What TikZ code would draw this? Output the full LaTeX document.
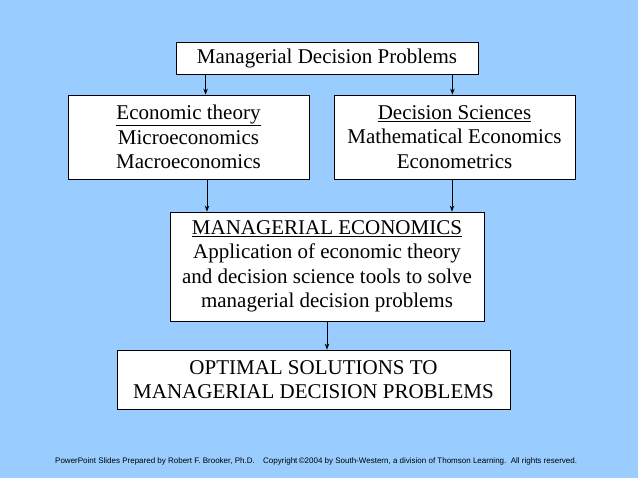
\documentclass[tikz,border=0pt]{standalone}
\usepackage{fontspec}
\setmainfont{Liberation Serif}
\newfontfamily\footfont{Liberation Sans}
\usetikzlibrary{arrows.meta}
\definecolor{slideblue}{HTML}{99CCFF}
\tikzset{
	box/.style={draw=black, fill=white, line width=0.8pt, inner sep=0pt, align=center,
		font=\fontsize{21}{24.5}\selectfont},
	arr/.style={-{Stealth[length=6pt,width=4.5pt]}, line width=0.8pt},
	foot/.style={font=\footfont\fontsize{8}{9}\selectfont, anchor=west, inner sep=0pt}
}

\begin{document}
\begin{tikzpicture}[x=1pt,y=1pt]
					\fill[slideblue] (0,0) rectangle (638,478);
					\useasboundingbox (0,0) rectangle (638,478);
					% boxes
					\node[box, minimum width=302pt, minimum height=32pt] (mdp) at (327,420)
						{Managerial Decision Problems};
					\node[box, minimum width=241pt, minimum height=84pt] (econ) at (188.5,341)
						{\underline{Economic theory}\\Microeconomics\\Macroeconomics};
					\node[box, minimum width=241pt, minimum height=84pt] (decsci) at (454.5,341)
						{\underline{Decision Sciences}\\Mathematical Economics\\Econometrics};
					\node[box, minimum width=314pt, minimum height=109pt] (me) at (327,211.5)
						{\underline{MANAGERIAL ECONOMICS}\\Application of economic theory\\and decision science tools to solve\\managerial decision problems};
					\node[box, minimum width=393pt, minimum height=59pt] (opt) at (313.5,98.5)
						{OPTIMAL SOLUTIONS TO\\MANAGERIAL DECISION PROBLEMS};
					% arrows
					\draw[arr] ([xshift=30pt]mdp.south west) -- ([xshift=30pt]mdp.south west |- econ.north);
					\draw[arr] ([xshift=-26pt]mdp.south east) -- ([xshift=-26pt]mdp.south east |- decsci.north);
					\draw[arr] ([xshift=18.5pt]econ.south) -- ([xshift=18.5pt]econ.south |- me.north);
					\draw[arr] ([xshift=-2.5pt]decsci.south) -- ([xshift=-2.5pt]decsci.south |- me.north);
					\draw[arr] (me.south) -- (me.south |- opt.north);
					% footer
					\node[foot] (prep) at (55,17) {PowerPoint Slides Prepared by Robert F. Brooker, Ph.D.};
					\node[foot] (copy) at (263,17) {Copyright\,©2004 by South-Western, a division of Thomson Learning.\ \ All rights reserved.};
\end{tikzpicture}
\end{document}
